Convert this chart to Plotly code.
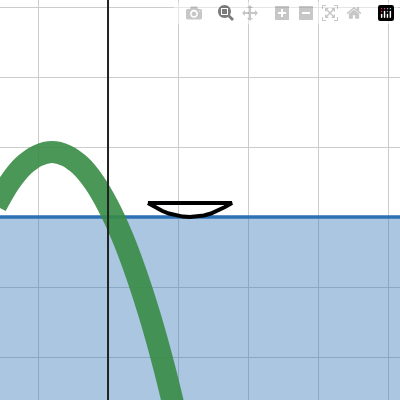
import plotly.graph_objects as go

# green parabola, points
green_x = [-1.6, -1.4, -1.2, -1.0, -0.8, -0.6, -0.4, -0.2, 0.0, 0.2, 0.4, 0.6, 0.8, 1.0]
green_y = [0.16, 0.50, 0.74, 0.88, 0.93, 0.88, 0.74, 0.50, 0.16, -0.27, -0.80, -1.42, -2.14, -2.96]

# black lens shape (arc plus closing chord)
lens_x = [0.57, 0.67, 0.77, 0.87, 0.97, 1.07, 1.17, 1.27, 1.37, 1.47, 1.57, 1.67, 1.77, 0.57]
lens_y = [0.2, 0.142, 0.089, 0.05, 0.022, 0.006, 0.0, 0.006, 0.022, 0.05, 0.089, 0.142, 0.2, 0.2]

# shaded half-plane y <= 0
shade_x = [-2, 5]
shade_y = [0, 0]

xr = [-1.543, 4.171]
yr = [-2.614, 3.1]

fig = go.Figure()
fig.add_trace(go.Scatter(x=shade_x, y=[-5, -5], mode='lines', line=dict(width=0),
                         showlegend=False, hoverinfo='skip'))
fig.add_trace(go.Scatter(x=shade_x, y=shade_y, mode='lines', fill='tonexty',
                         fillcolor='rgba(45,112,179,0.4)',
                         line=dict(color='#2d70b3', width=3.5), showlegend=False))
fig.add_trace(go.Scatter(x=green_x, y=green_y, mode='lines', line_shape='spline',
                         line=dict(color='#388c46', width=22), opacity=0.9, showlegend=False))
fig.add_trace(go.Scatter(x=lens_x, y=lens_y, mode='lines',
                         line=dict(color='black', width=4), showlegend=False))

fig.add_vline(x=0, line=dict(color='#222', width=2))

axis = dict(showticklabels=False, zeroline=False, showgrid=True, gridcolor='#cccccc',
            gridwidth=1, dtick=1, ticks='')
fig.update_xaxes(range=xr, **axis)
fig.update_yaxes(range=yr, **axis)
fig.update_layout(width=400, height=400, margin=dict(l=0, r=0, t=0, b=0),
                  plot_bgcolor='white', paper_bgcolor='white')

fig.write_html("out.html", post_script="document.body.style.margin='0';")
